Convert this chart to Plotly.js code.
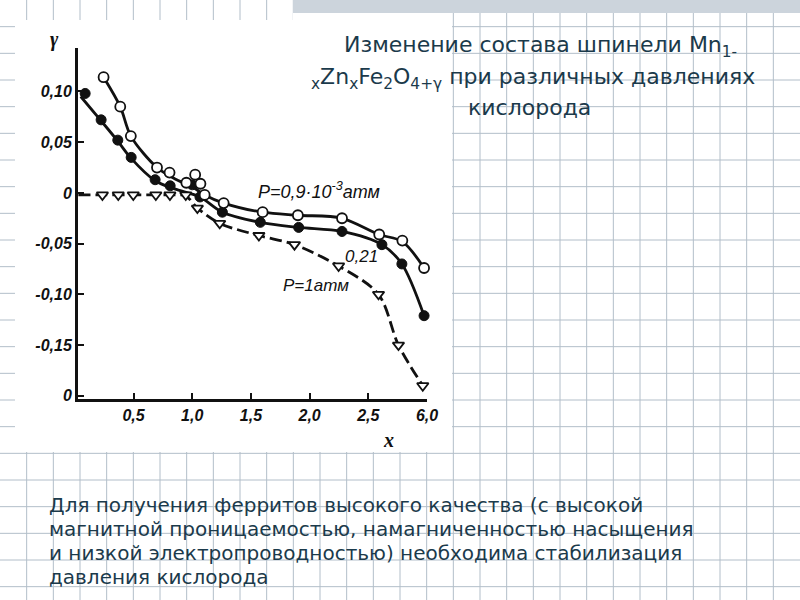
<!DOCTYPE html>
<html><head><meta charset="utf-8">
<script src="https://cdn.plot.ly/plotly-3.0.1.min.js"></script>
<style>html,body{margin:0;padding:0;background:#fff}#chart{width:800px;height:600px}</style>
</head><body><div id="chart"></div>
<script>
// ---- tick labels ----
const xTickVals = [0.5, 1.0, 1.5, 2.0, 2.5, 3.0];
const xTickText = ['0,5', '1,0', '1,5', '2,0', '2,5', '6,0'];
const yTickVals = [0.10, 0.05, 0, -0.05, -0.10, -0.15, -0.20];
const yTickText = ['0,10', '0,05', '0', '-0,05', '-0,10', '-0,15', '0'];

// ---- P = 0,9·10^-3 atm (open circles) ----
const openX = [0.245, 0.387, 0.477, 0.70, 0.807, 0.95, 1.025, 1.07, 1.106, 1.268, 1.60, 1.90, 2.276, 2.593, 2.79, 2.975];
const openY = [0.114, 0.085, 0.056, 0.025, 0.020, 0.010, 0.018, 0.009, -0.002, -0.010, -0.019, -0.022, -0.025, -0.041, -0.047, -0.074];
const openCurveX = [0.245, 0.387, 0.477, 0.70, 0.85, 1.0, 1.106, 1.268, 1.60, 1.90, 2.276, 2.593, 2.79, 2.975];
const openCurveY = [0.114, 0.085, 0.056, 0.025, 0.014, 0.006, -0.002, -0.010, -0.019, -0.022, -0.025, -0.041, -0.048, -0.074];

// ---- P = 0,21 atm (filled circles) ----
const filledX = [0.088, 0.224, 0.366, 0.48, 0.684, 0.812, 1.0, 1.066, 1.257, 1.58, 1.907, 2.276, 2.616, 2.786, 2.975];
const filledY = [0.098, 0.072, 0.052, 0.035, 0.013, 0.007, 0.008, -0.004, -0.019, -0.029, -0.034, -0.038, -0.051, -0.070, -0.121];
const filledCurveX = [0.05, 0.224, 0.366, 0.48, 0.684, 0.85, 1.066, 1.257, 1.58, 1.907, 2.276, 2.616, 2.786, 2.975];
const filledCurveY = [0.095, 0.071, 0.051, 0.034, 0.012, 0.004, -0.004, -0.019, -0.029, -0.034, -0.038, -0.051, -0.070, -0.121];

// ---- P = 1 atm (triangles, dashed) ----
const triX = [0.235, 0.37, 0.498, 0.69, 0.81, 0.945, 1.044, 1.234, 1.568, 1.871, 2.247, 2.587, 2.757, 2.964];
const triY = [-0.002, -0.002, -0.002, -0.002, -0.002, -0.002, -0.015, -0.030, -0.042, -0.051, -0.072, -0.100, -0.150, -0.190];
const triCurveX = [0.03, 0.235, 0.498, 0.81, 0.945, 1.044, 1.234, 1.568, 1.871, 2.247, 2.587, 2.757, 2.964];
const triCurveY = [-0.002, -0.002, -0.002, -0.002, -0.003, -0.015, -0.030, -0.042, -0.051, -0.072, -0.100, -0.150, -0.190];

// ---- texts ----
const titleLines = ['Изменение состава шпинели Mn<sub>1-</sub>',
  '<sub>x</sub>Zn<sub>x</sub>Fe<sub>2</sub>O<sub>4+γ</sub> при различных давлениях',
  'кислорода'];
const bodyLines = ['Для получения ферритов высокого качества (с высокой',
  'магнитной проницаемостью, намагниченностью насыщения',
  'и низкой электропроводностью) необходима стабилизация',
  'давления кислорода'];
const curveLabels = ['P=0,9·10<sup>-3</sup>атм', '0,21', 'P=1атм'];

// ---- page geometry (pixels) ----
const L = 78, R = 427, T = 48, B = 399, W = 800, H = 600;
const px = x => (x - L) / (R - L);
const py = y => (B - y) / (B - T);
const TXT = '#1b3a4b';

const shapes = [];
const G = 80 / 3;
for (let k = 1; k < 30; k++) shapes.push({type: 'line', xref: 'paper', yref: 'paper', layer: 'below',
  x0: px(k * G), x1: px(k * G), y0: py(0), y1: py(H), line: {color: '#b2bec9', width: 1}});
for (let k = 1; k < 23; k++) shapes.push({type: 'line', xref: 'paper', yref: 'paper', layer: 'below',
  x0: px(0), x1: px(W), y0: py(k * G), y1: py(k * G), line: {color: '#b2bec9', width: 1}});
shapes.push({type: 'rect', xref: 'paper', yref: 'paper', layer: 'below', x0: px(15), x1: px(452), y0: py(20), y1: py(452),
  fillcolor: '#ffffff', line: {width: 0}});
shapes.push({type: 'rect', xref: 'paper', yref: 'paper', layer: 'below', x0: px(293), x1: px(800), y0: py(0), y1: py(13),
  fillcolor: '#ccd4dc', line: {width: 0}});
shapes.push({type: 'rect', xref: 'paper', yref: 'paper', layer: 'below', x0: px(293), x1: px(452), y0: py(13), y1: py(20),
  fillcolor: '#ffffff', line: {width: 0}});

const ann = [];
const titleCx = [540, 533, 529], titleCy = [46, 78, 108];
titleLines.forEach((t, i) => ann.push({text: t, xref: 'paper', yref: 'paper', x: px(titleCx[i]), y: py(titleCy[i]),
  xanchor: 'center', yanchor: 'middle', showarrow: false, font: {family: 'DejaVu Sans', size: 22, color: TXT}}));
const bodyCy = [505, 529, 553, 577];
bodyLines.forEach((t, i) => ann.push({text: t, xref: 'paper', yref: 'paper', x: px(47), y: py(bodyCy[i]),
  xanchor: 'left', yanchor: 'middle', showarrow: false, font: {family: 'DejaVu Sans', size: 20, color: TXT}}));
const labPos = [[319, 190], [361, 256], [316, 285]];
const labSize = [18, 17, 17];
curveLabels.forEach((t, i) => ann.push({text: t, xref: 'paper', yref: 'paper', x: px(labPos[i][0]), y: py(labPos[i][1]),
  xanchor: 'center', yanchor: 'middle', showarrow: false,
  font: {family: 'Liberation Sans', size: labSize[i], color: '#111', style: 'italic'}}));
ann.push({text: 'γ', xref: 'paper', yref: 'paper', x: px(54), y: py(40), xanchor: 'center', yanchor: 'middle',
  showarrow: false, font: {family: 'Liberation Serif', size: 20, color: '#111', style: 'italic', weight: 'bold'}});
ann.push({text: 'x', xref: 'paper', yref: 'paper', x: px(388), y: py(440), xanchor: 'center', yanchor: 'middle',
  showarrow: false, font: {family: 'Liberation Serif', size: 20, color: '#111', style: 'italic', weight: 'bold'}});

const lineStyle = {color: '#111', width: 2.8, shape: 'spline', smoothing: 0.9};
const traces = [
  {x: openCurveX, y: openCurveY, mode: 'lines', line: lineStyle, hoverinfo: 'skip'},
  {x: filledCurveX, y: filledCurveY, mode: 'lines', line: lineStyle, hoverinfo: 'skip'},
  {x: triCurveX, y: triCurveY, mode: 'lines', line: Object.assign({}, lineStyle, {dash: '12px,5px'}), hoverinfo: 'skip'},
  {x: triX, y: triY, mode: 'markers', cliponaxis: false,
   marker: {symbol: 'triangle-down', size: 10, color: '#fff', line: {color: '#111', width: 1.8}}},
  {x: filledX, y: filledY, mode: 'markers', cliponaxis: false,
   marker: {symbol: 'circle', size: 10, color: '#111', line: {color: '#111', width: 1}}},
  {x: openX, y: openY, mode: 'markers', cliponaxis: false,
   marker: {symbol: 'circle', size: 10, color: '#fff', line: {color: '#111', width: 1.8}}}
];

const tickFont = {family: 'Liberation Sans', size: 16, color: '#111', style: 'italic', weight: 'bold'};
const layout = {
  width: W, height: H, showlegend: false,
  margin: {l: L, r: W - R, t: T, b: H - B, pad: 0},
  paper_bgcolor: '#ffffff', plot_bgcolor: 'rgba(0,0,0,0)',
  xaxis: {range: [0.027, 3.0], tickvals: xTickVals, ticktext: xTickText, showgrid: false, zeroline: false,
    showline: true, linecolor: '#111', linewidth: 3, ticks: 'inside', ticklen: 6, tickwidth: 2, tickcolor: '#111',
    tickfont: tickFont, fixedrange: true},
  yaxis: {range: [-0.2031, 0.1428], tickvals: yTickVals, ticktext: yTickText, showgrid: false, zeroline: false,
    showline: true, linecolor: '#111', linewidth: 3, ticks: 'inside', ticklen: 6, tickwidth: 2, tickcolor: '#111',
    tickfont: tickFont, fixedrange: true},
  shapes: shapes, annotations: ann
};
Plotly.newPlot('chart', traces, layout, {displayModeBar: false, staticPlot: true});
</script></body></html>
